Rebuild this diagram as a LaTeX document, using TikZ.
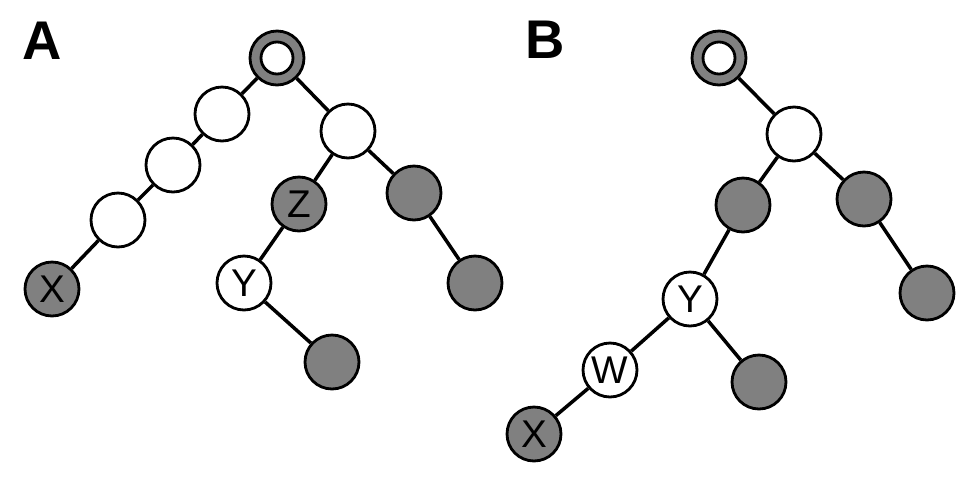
\documentclass[tikz,border=0pt]{standalone}
\usepackage{fontspec}
\setmainfont{Liberation Sans}
\usepackage{tikz}
\definecolor{treegray}{RGB}{128,128,128}

\begin{document}
\begin{tikzpicture}[x=.02cm,y=-.02cm,font=\fontsize{22}{24}\selectfont,
  vtx/.style={circle,draw=black,line width=1.6pt,minimum size=1.08cm,inner sep=0pt},
  open/.style={vtx,fill=white},
  hit/.style={vtx,fill=treegray},
  rootvtx/.style={hit,path picture={\draw[line width=1.6pt,fill=white]
    (path picture bounding box.center) circle (.32cm);}},
  edge/.style={line width=2pt}]
  \useasboundingbox (0,0) rectangle (962,481);
  % panel A
  \node[font=\fontsize{31}{34}\selectfont\bfseries] (labA) at (42,41) {A};
  \node[rootvtx] (rootA) at (277,58) {};
  \node[open] (a1) at (222,114) {};
  \node[open] (a2) at (173,165) {};
  \node[open] (a3) at (118,220) {};
  \node[hit] (xA) at (52,289) {X};
  \node[open] (rA) at (348,131) {};
  \node[hit] (zA) at (299,204) {Z};
  \node[hit] (gA1) at (414,193) {};
  \node[open] (yA) at (244,283) {Y};
  \node[hit] (gA2) at (475,283) {};
  \node[hit] (gA3) at (332,362) {};
  \draw[edge] (rootA) -- (a1) (a1) -- (a2) (a2) -- (a3) (a3) -- (xA);
  \draw[edge] (rootA) -- (rA) (rA) -- (zA) (rA) -- (gA1) (gA1) -- (gA2);
  \draw[edge] (zA) -- (yA) (yA) -- (gA3);
  % panel B
  \node[font=\fontsize{31}{34}\selectfont\bfseries] (labB) at (545,40) {B};
  \node[rootvtx] (rootB) at (719,58) {};
  \node[open] (rB) at (794,134) {};
  \node[hit] (gB1) at (743,205) {};
  \node[hit] (gB2) at (864,199) {};
  \node[open] (yB) at (690,299) {Y};
  \node[hit] (gB3) at (927,293) {};
  \node[open] (wB) at (610,370) {W};
  \node[hit] (gB4) at (759,382) {};
  \node[hit] (xB) at (534,434) {X};
  \draw[edge] (rootB) -- (rB) (rB) -- (gB1) (rB) -- (gB2) (gB2) -- (gB3);
  \draw[edge] (gB1) -- (yB) (yB) -- (wB) (yB) -- (gB4) (wB) -- (xB);
\end{tikzpicture}
\end{document}
